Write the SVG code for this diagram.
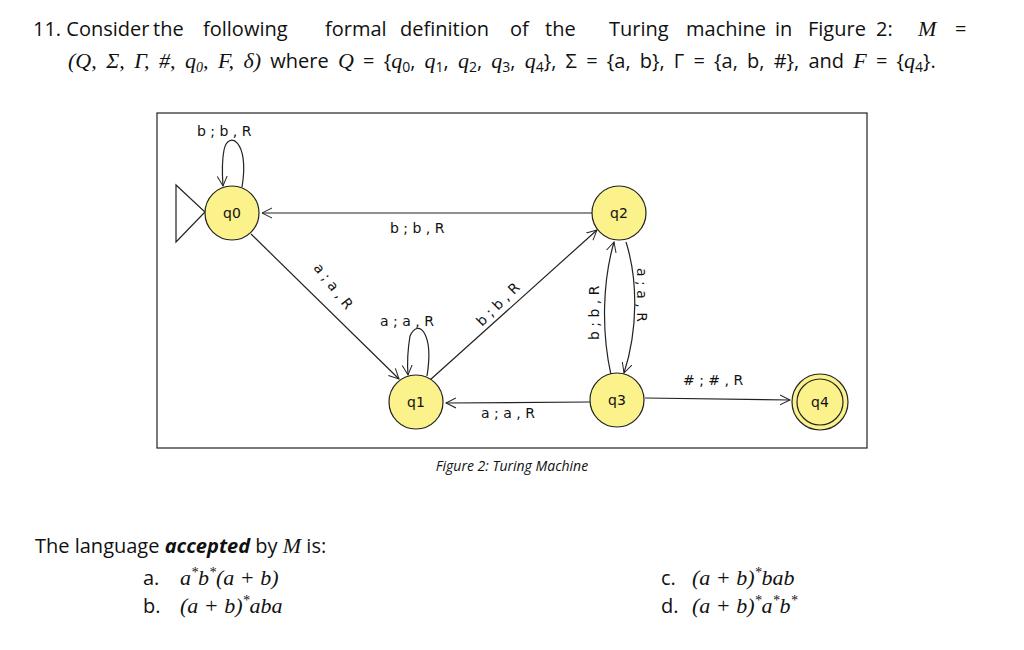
<svg xmlns="http://www.w3.org/2000/svg" width="1024" height="650" viewBox="0 0 1024 650">
<defs>
<marker id="ar" markerWidth="12" markerHeight="12" refX="10" refY="6" orient="auto" markerUnits="userSpaceOnUse"><path d="M0,1 L10,6 L0,11" fill="none" stroke="#222" stroke-width="1"/></marker>
</defs>
<style>
.t{font-family:"Open Sans","Liberation Sans",sans-serif;font-size:20px;fill:#111}
.m{font-family:"Liberation Serif",serif;font-style:italic;font-size:22px;fill:#111}
.s{font-size:14px}
.n{fill:#fbf28c;stroke:#222;stroke-width:1.2}
.nl{font-family:"DejaVu Sans",sans-serif;font-size:14px;fill:#111;text-anchor:middle}
.el{font-family:"DejaVu Sans",sans-serif;font-size:14px;fill:#111}
.e{fill:none;stroke:#222;stroke-width:1.2;marker-end:url(#ar)}
</style>
<rect width="1024" height="650" fill="#fff"/>
<text class="t" x="33" y="36">11. Consider</text>
<text class="t" x="153" y="36">the</text>
<text class="t" x="203" y="36">following</text>
<text class="t" x="325" y="36">formal</text>
<text class="t" x="400" y="36">definition</text>
<text class="t" x="510" y="36">of</text>
<text class="t" x="545" y="36">the</text>
<text class="t" x="609" y="36">Turing</text>
<text class="t" x="686" y="36">machine</text>
<text class="t" x="775" y="36">in</text>
<text class="t" x="808" y="36">Figure</text>
<text class="t" x="876" y="36">2:</text>
<text class="m" x="918" y="36">M</text>
<text class="t" x="955" y="36">=</text>
<text class="t" x="68" y="68" word-spacing="4"><tspan class="m">(Q, Σ, Γ, #, q</tspan><tspan class="m s" dy="4">0</tspan><tspan class="m" dy="-4">, F, δ)</tspan> where <tspan class="m">Q</tspan> = {<tspan class="m">q</tspan><tspan class="s" dy="4">0</tspan><tspan dy="-4">, </tspan><tspan class="m">q</tspan><tspan class="s" dy="4">1</tspan><tspan dy="-4">, </tspan><tspan class="m">q</tspan><tspan class="s" dy="4">2</tspan><tspan dy="-4">, </tspan><tspan class="m">q</tspan><tspan class="s" dy="4">3</tspan><tspan dy="-4">, </tspan><tspan class="m">q</tspan><tspan class="s" dy="4">4</tspan><tspan dy="-4">}, Σ = {a, b}, Γ = {a, b, #}, and </tspan><tspan class="m">F</tspan> = {<tspan class="m">q</tspan><tspan class="s" dy="4">4</tspan><tspan dy="-4">}.</tspan></text>
<rect x="157" y="113" width="710" height="335" fill="none" stroke="#222" stroke-width="1.2"/>
<g id="connectors">
<path class="e" d="M242,187 C250,140 228,130 224,150 C222,160 222,172 223,186"/>
<path class="e" d="M592,213 L262,213"/>
<path class="e" d="M251,234 L399,379"/>
<path class="e" d="M427,376 C434,332 418,318 410,336 C408,348 407,362 408,375"/>
<path class="e" d="M430,380 L597,230"/>
<path class="e" d="M611,375 C601,330 603,280 614,242"/>
<path class="e" d="M626,242 C638,280 638,330 624,373"/>
<path class="e" d="M590,402 L446,403"/>
<path class="e" d="M645,398 L790,400"/>
<path d="M176,185 L205,212 L176,242 Z" fill="none" stroke="#222" stroke-width="1.2"/>
</g>
<text class="el" x="197" y="136">b ; b , R</text>
<text class="el" x="390" y="233">b ; b , R</text>
<text class="el" x="313" y="268" transform="rotate(52 313 268)">a ; a , R</text>
<text class="el" x="380" y="326">a ; a , R</text>
<text class="el" x="482" y="327" transform="rotate(-45 482 327)">b ; b , R</text>
<text class="el" x="599" y="340" transform="rotate(-90 599 340)">b ; b , R</text>
<text class="el" x="637" y="268" transform="rotate(90 637 268)">a ; a , R</text>
<text class="el" x="481" y="418">a ; a , R</text>
<text class="el" x="683" y="385">#  ;  # , R</text>
<g id="q0"><circle class="n" cx="232" cy="213" r="27"/><text class="nl" x="232" y="218">q0</text></g>
<g id="q1"><circle class="n" cx="416" cy="402" r="27"/><text class="nl" x="416" y="407">q1</text></g>
<g id="q2"><circle class="n" cx="619" cy="213" r="27"/><text class="nl" x="619" y="218">q2</text></g>
<g id="q3"><circle class="n" cx="617" cy="400" r="27"/><text class="nl" x="617" y="405">q3</text></g>
<g id="q4"><circle class="n" cx="820" cy="402" r="28"/><circle class="n" cx="820" cy="402" r="23"/><text class="nl" x="820" y="407">q4</text></g>
<text x="512" y="471" text-anchor="middle" font-family="Open Sans,Liberation Sans,sans-serif" font-style="italic" font-size="14" fill="#111">Figure 2: Turing Machine</text>
<text class="t" x="35" y="553">The language <tspan font-weight="bold" font-style="italic">accepted</tspan> by <tspan class="m">M</tspan> is:</text>
<text class="t" x="143" y="585">a.</text><text class="m" x="180" y="585">a<tspan class="s" dy="-8">*</tspan><tspan dy="8">b</tspan><tspan class="s" dy="-8">*</tspan><tspan dy="8">(a + b)</tspan></text>
<text class="t" x="143" y="613">b.</text><text class="m" x="180" y="613">(a + b)<tspan class="s" dy="-8">*</tspan><tspan dy="8">aba</tspan></text>
<text class="t" x="661" y="585">c.</text><text class="m" x="692" y="585">(a + b)<tspan class="s" dy="-8">*</tspan><tspan dy="8">bab</tspan></text>
<text class="t" x="661" y="613">d.</text><text class="m" x="692" y="613">(a + b)<tspan class="s" dy="-8">*</tspan><tspan dy="8">a</tspan><tspan class="s" dy="-8">*</tspan><tspan dy="8">b</tspan><tspan class="s" dy="-8">*</tspan></text>
</svg>
